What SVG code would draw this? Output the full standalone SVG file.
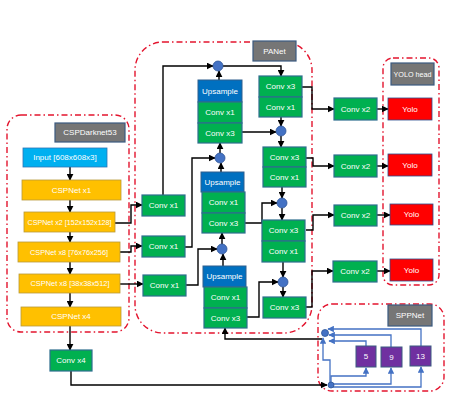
<svg xmlns="http://www.w3.org/2000/svg" width="474" height="410" viewBox="0 0 474 410">
<defs>
<style>
text{font-family:"Liberation Sans",Arial,sans-serif;font-size:8px;fill:#fff;text-anchor:middle;dominant-baseline:central}
.gr{fill:#00b050;stroke:#2e6e8e;stroke-width:1.2}
.up{fill:#0070c0;stroke:#2e5f8e;stroke-width:1}
.or{fill:#ffc000;stroke:#b89a3a;stroke-width:0.8}
.in{fill:#00b0f0;stroke:#2e75b6;stroke-width:0.8}
.yo{fill:#ff0000;stroke:#2e4f8e;stroke-width:0.8}
.pu{fill:#7030a0;stroke:#3b5a80;stroke-width:1}
.lb{fill:#767676;stroke:#3b5a80;stroke-width:1.2}
.dash{fill:none;stroke:#e3142e;stroke-width:1.4;stroke-dasharray:6 3 1.5 3}
.dot{fill:#4472c4;stroke:#2f5597;stroke-width:0.8}
.c{fill:none;stroke:#000;stroke-width:1.4;marker-end:url(#ah)}
.b{fill:none;stroke:#4472c4;stroke-width:1.3;marker-end:url(#bh)}
</style>
<marker id="ah" viewBox="0 0 10 10" refX="9" refY="5" markerWidth="5" markerHeight="5" orient="auto" markerUnits="strokeWidth"><path d="M0,0 L10,5 L0,10 Z" fill="#000"/></marker>
<marker id="bh" viewBox="0 0 10 10" refX="9" refY="5" markerWidth="5" markerHeight="5" orient="auto" markerUnits="strokeWidth"><path d="M0,0 L10,5 L0,10 Z" fill="#4472c4"/></marker>
</defs>
<rect width="474" height="410" fill="#fff"/>

<!-- region boxes -->
<g id="regions">
<rect class="dash" x="7" y="115" width="122" height="217" rx="14"/>
<rect class="dash" x="135" y="42" width="177" height="291" rx="28"/>
<rect class="dash" x="383" y="58" width="56" height="227" rx="10"/>
<rect class="dash" x="318" y="304" width="126" height="87" rx="14"/>
</g>

<g id="connectors">
<path class="c" d="M70,167 V180"/>
<path class="c" d="M70,200 V212"/>
<path class="c" d="M70,232 V242"/>
<path class="c" d="M70,262 V274"/>
<path class="c" d="M70,293 V307"/>
<path class="c" d="M70,326 V350"/>
<path class="c" d="M115,223 H131 V205 H142"/>
<path class="c" d="M120,252 H131 V246 H142"/>
<path class="c" d="M120,284 H143"/>
<path class="c" d="M163,195 V66 H213"/>
<path class="c" d="M219,80 V71"/>
<path class="c" d="M223,66 H281 V76"/>
<path class="c" d="M281,117 V126"/>
<path class="c" d="M242,132 H276"/>
<path class="c" d="M281,136 V147"/>
<path class="c" d="M220,153 V143"/>
<path class="c" d="M221,172 V163"/>
<path class="c" d="M185,247 H192 V158 H215"/>
<path class="c" d="M282,187 V198"/>
<path class="c" d="M245,223 H262 V203 H277"/>
<path class="c" d="M282,208 V220"/>
<path class="c" d="M222,244 V233"/>
<path class="c" d="M223,266 V254"/>
<path class="c" d="M186,285 H198 V249 H217"/>
<path class="c" d="M283,262 V277"/>
<path class="c" d="M247,317 H259 V282 H278"/>
<path class="c" d="M283,287 V297"/>
<path class="c" d="M302,87 H312 V109 H334"/>
<path class="c" d="M377,109 H388"/>
<path class="c" d="M306,158 H313 V166 H334"/>
<path class="c" d="M377,166 H388"/>
<path class="c" d="M306,230 H313 V215 H334"/>
<path class="c" d="M377,215 H390"/>
<path class="c" d="M306,307 H312 V271 H333"/>
<path class="c" d="M377,271 H390"/>
<path class="c" d="M71,371 V385 H327"/>
<path class="c" d="M322,339 H225 V328"/>
<path class="b" d="M331,383 V376 H366 V368"/>
<path class="b" d="M333,384 H391 V368"/>
<path class="b" d="M333,387 H421 V367"/>
<path class="b" d="M330,383 V360 H323 V338"/>
<path class="b" d="M366,346 V341 H329"/>
<path class="b" d="M391,347 V335 H329"/>
<path class="b" d="M421,346 V329 H328"/>
</g>

<g id="cspdarknet-label"><rect class="lb" x="55" y="123" width="70" height="19"/><text x="90" y="132.5">CSPDarknet53</text></g>
<g id="input"><rect class="in" x="23" y="148" width="84" height="19"/><text x="65" y="157.5">Input [608x608x3]</text></g>
<g id="csp1"><rect class="or" x="22" y="180" width="99" height="20"/><text x="71.5" y="190">CSPNet x1</text></g>
<g id="csp2"><rect class="or" x="24" y="212" width="91" height="20"/><text x="69.5" y="222" textLength="84" lengthAdjust="spacingAndGlyphs">CSPNet x2 [152x152x128]</text></g>
<g id="csp8a"><rect class="or" x="18" y="242" width="102" height="20"/><text x="69" y="252" textLength="78" lengthAdjust="spacingAndGlyphs">CSPNet x8 [76x76x256]</text></g>
<g id="csp8b"><rect class="or" x="19" y="274" width="101" height="19"/><text x="70" y="283.5" textLength="79" lengthAdjust="spacingAndGlyphs">CSPNet x8 [38x38x512]</text></g>
<g id="csp4"><rect class="or" x="21" y="307" width="100" height="19"/><text x="71" y="316.5">CSPNet x4</text></g>
<g id="convx4"><rect class="gr" x="50" y="350" width="42" height="21"/><text x="71" y="360.5">Conv x4</text></g>

<g id="panet-label"><rect class="lb" x="253" y="41" width="43" height="20"/><text x="274.5" y="51">PANet</text></g>
<g id="conv1a"><rect class="gr" x="142" y="195" width="43" height="21"/><text x="163.5" y="205.5">Conv x1</text></g>
<g id="conv1b"><rect class="gr" x="142" y="236" width="43" height="21"/><text x="163.5" y="246.5">Conv x1</text></g>
<g id="conv1c"><rect class="gr" x="143" y="275" width="43" height="21"/><text x="164.5" y="285.5">Conv x1</text></g>

<g id="stack1">
<rect class="up" x="198" y="80" width="44" height="22"/><text x="220" y="91">Upsample</text>
<rect class="gr" x="198" y="102" width="44" height="21"/><text x="220" y="112.5">Conv x1</text>
<rect class="gr" x="198" y="123" width="44" height="20"/><text x="220" y="133">Conv x3</text>
</g>
<g id="stack2">
<rect class="up" x="201" y="172" width="43" height="20"/><text x="222.5" y="182">Upsample</text>
<rect class="gr" x="202" y="192" width="43" height="21"/><text x="223.5" y="202.5">Conv x1</text>
<rect class="gr" x="202" y="213" width="43" height="20"/><text x="223.5" y="223">Conv x3</text>
</g>
<g id="stack3">
<rect class="up" x="203" y="266" width="43" height="21"/><text x="224.5" y="276.5">Upsample</text>
<rect class="gr" x="204" y="287" width="43" height="21"/><text x="225.5" y="297.5">Conv x1</text>
<rect class="gr" x="204" y="308" width="43" height="20"/><text x="225.5" y="318">Conv x3</text>
</g>
<g id="right1">
<rect class="gr" x="259" y="76" width="43" height="21"/><text x="280.5" y="86.5">Conv x3</text>
<rect class="gr" x="259" y="97" width="43" height="20"/><text x="280.5" y="107">Conv x1</text>
</g>
<g id="right2">
<rect class="gr" x="263" y="147" width="43" height="20"/><text x="284.5" y="157">Conv x3</text>
<rect class="gr" x="263" y="167" width="43" height="20"/><text x="284.5" y="177">Conv x1</text>
</g>
<g id="right3">
<rect class="gr" x="262" y="220" width="43" height="21"/><text x="283.5" y="230.5">Conv x3</text>
<rect class="gr" x="262" y="241" width="43" height="21"/><text x="283.5" y="251.5">Conv x1</text>
</g>
<g id="right4"><rect class="gr" x="263" y="297" width="43" height="21"/><text x="284.5" y="307.5">Conv x3</text></g>

<g id="concat1"><circle class="dot" cx="218" cy="66" r="5"/></g>
<g id="concat2"><circle class="dot" cx="281" cy="131" r="5"/></g>
<g id="concat3"><circle class="dot" cx="220" cy="158" r="5"/></g>
<g id="concat4"><circle class="dot" cx="282" cy="203" r="5"/></g>
<g id="concat5"><circle class="dot" cx="222" cy="249" r="5"/></g>
<g id="concat6"><circle class="dot" cx="283" cy="282" r="5"/></g>

<g id="yolo-label"><rect class="lb" x="391" y="63" width="43" height="22"/><text x="412.5" y="74" textLength="38" lengthAdjust="spacingAndGlyphs">YOLO head</text></g>
<g id="convx2a"><rect class="gr" x="334" y="98" width="43" height="22"/><text x="355.5" y="109">Conv x2</text></g>
<g id="convx2b"><rect class="gr" x="334" y="155" width="43" height="22"/><text x="355.5" y="166">Conv x2</text></g>
<g id="convx2c"><rect class="gr" x="334" y="205" width="43" height="21"/><text x="355.5" y="215.5">Conv  x2</text></g>
<g id="convx2d"><rect class="gr" x="333" y="261" width="44" height="21"/><text x="355" y="271.5">Conv  x2</text></g>
<g id="yolo1"><rect class="yo" x="388" y="98" width="44" height="22"/><text x="410" y="109">Yolo</text></g>
<g id="yolo2"><rect class="yo" x="388" y="154" width="44" height="22"/><text x="410" y="165">Yolo</text></g>
<g id="yolo3"><rect class="yo" x="390" y="204" width="43" height="21"/><text x="411.5" y="214.5">Yolo</text></g>
<g id="yolo4"><rect class="yo" x="390" y="259" width="43" height="22"/><text x="411.5" y="270">Yolo</text></g>

<g id="spp-label"><rect class="lb" x="388" y="305" width="44" height="21"/><text x="410" y="315.5">SPPNet</text></g>
<g id="pool5"><rect class="pu" x="356" y="346" width="20" height="21"/><text x="366" y="356.5">5</text></g>
<g id="pool9"><rect class="pu" x="381" y="347" width="21" height="20"/><text x="391.5" y="357">9</text></g>
<g id="pool13"><rect class="pu" x="410" y="346" width="21" height="20"/><text x="420.5" y="356">13</text></g>
<g id="spp-in"><circle class="dot" cx="331" cy="385" r="3"/></g>
<g id="spp-out"><circle class="dot" cx="325" cy="333" r="3.5"/></g>
</svg>
